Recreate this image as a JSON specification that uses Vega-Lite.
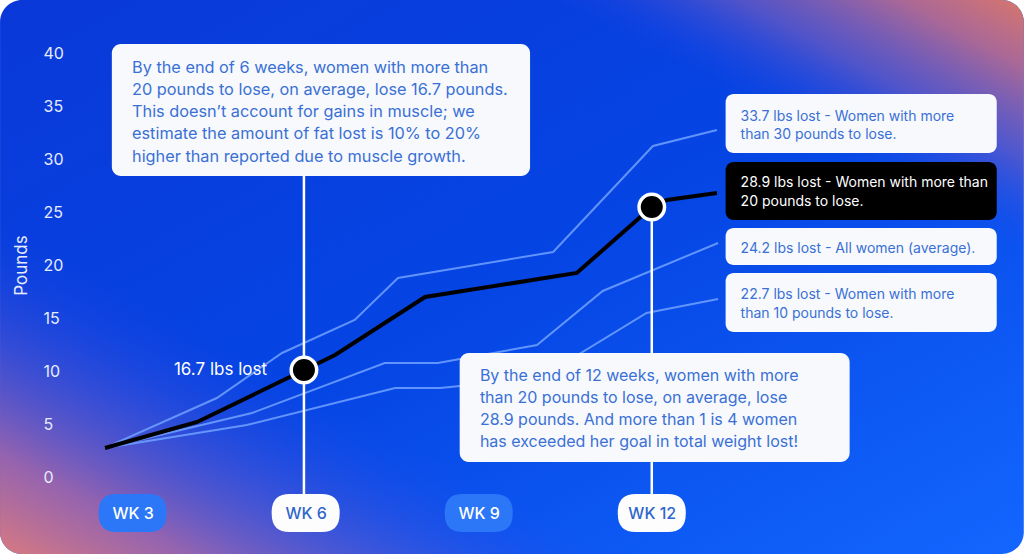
{
  "$schema": "https://vega.github.io/schema/vega-lite/v6.json",
  "width": 623,
  "height": 424,
  "autosize": {"type": "none"},
  "padding": {"left": 98, "top": 53, "right": 303, "bottom": 77},
  "background": "white",
  "config": {"view": {"stroke": null}, "font": "Inter"},
  "resolve": {"axis": {"x": "independent", "y": "independent"}},
  "data": {
    "values": [
      {"series": "More than 30 lbs to lose", "week": 2.52, "lbs": 2.74},
      {"series": "More than 30 lbs to lose", "week": 4.46, "lbs": 7.45},
      {"series": "More than 30 lbs to lose", "week": 5.59, "lbs": 11.7},
      {"series": "More than 30 lbs to lose", "week": 6.85, "lbs": 14.81},
      {"series": "More than 30 lbs to lose", "week": 7.6, "lbs": 18.77},
      {"series": "More than 30 lbs to lose", "week": 10.29, "lbs": 21.23},
      {"series": "More than 30 lbs to lose", "week": 12.02, "lbs": 31.23},
      {"series": "More than 30 lbs to lose", "week": 13.13, "lbs": 32.74},
      {"series": "All women", "week": 2.52, "lbs": 2.74},
      {"series": "All women", "week": 5.07, "lbs": 6.04},
      {"series": "All women", "week": 7.37, "lbs": 10.75},
      {"series": "All women", "week": 8.29, "lbs": 10.75},
      {"series": "All women", "week": 10.01, "lbs": 12.45},
      {"series": "All women", "week": 11.15, "lbs": 17.55},
      {"series": "All women", "week": 13.15, "lbs": 22.08},
      {"series": "More than 10 lbs to lose", "week": 2.52, "lbs": 2.74},
      {"series": "More than 10 lbs to lose", "week": 4.98, "lbs": 4.91},
      {"series": "More than 10 lbs to lose", "week": 7.55, "lbs": 8.4},
      {"series": "More than 10 lbs to lose", "week": 8.33, "lbs": 8.4},
      {"series": "More than 10 lbs to lose", "week": 10.06, "lbs": 9.34},
      {"series": "More than 10 lbs to lose", "week": 11.91, "lbs": 15.47},
      {"series": "More than 10 lbs to lose", "week": 13.15, "lbs": 16.79},
      {"series": "More than 20 lbs to lose", "week": 2.52, "lbs": 2.74},
      {"series": "More than 20 lbs to lose", "week": 4.12, "lbs": 5.19},
      {"series": "More than 20 lbs to lose", "week": 6.51, "lbs": 11.51},
      {"series": "More than 20 lbs to lose", "week": 8.07, "lbs": 16.98},
      {"series": "More than 20 lbs to lose", "week": 10.7, "lbs": 19.25},
      {"series": "More than 20 lbs to lose", "week": 12.0, "lbs": 25.47},
      {"series": "More than 20 lbs to lose", "week": 12.26, "lbs": 26.13},
      {"series": "More than 20 lbs to lose", "week": 13.13, "lbs": 26.79}
    ]
  },
  "layer": [
    {
      "data": {"values": [{}]},
      "mark": {
        "type": "rect",
        "cornerRadius": 22,
        "fill": {
          "gradient": "linear", "x1": 0, "y1": 0, "x2": 1, "y2": 1,
          "stops": [
            {"offset": 0, "color": "#0a38d8"},
            {"offset": 0.5, "color": "#0545e4"},
            {"offset": 1, "color": "#1366ff"}
          ]
        }
      },
      "encoding": {
        "x": {"datum": 0.702, "axis": null},
        "x2": {"datum": 18.449},
        "y": {"datum": 45.0, "axis": null},
        "y2": {"datum": -7.264}
      }
    },
    {
      "data": {"values": [{}]},
      "mark": {
        "type": "rect",
        "cornerRadius": 22,
        "fill": {
          "gradient": "linear", "x1": 0, "y1": 1, "x2": 1, "y2": 0,
          "stops": [
            {"offset": 0, "color": "rgba(216,122,128,1)"},
            {"offset": 0.09, "color": "rgba(175,105,165,0.85)"},
            {"offset": 0.19, "color": "rgba(110,90,200,0.45)"},
            {"offset": 0.3, "color": "rgba(40,70,230,0)"},
            {"offset": 0.77, "color": "rgba(40,70,230,0)"},
            {"offset": 0.86, "color": "rgba(130,95,185,0.6)"},
            {"offset": 0.94, "color": "rgba(188,108,142,0.9)"},
            {"offset": 1, "color": "rgba(216,118,108,1)"}
          ]
        }
      },
      "encoding": {
        "x": {"datum": 0.702, "axis": null},
        "x2": {"datum": 18.449},
        "y": {"datum": 45.0, "axis": null},
        "y2": {"datum": -7.264}
      }
    },
    {
      "transform": [{"filter": "datum.series !== 'More than 20 lbs to lose'"}],
      "mark": {"type": "line", "strokeWidth": 2, "color": "#6c9cff", "opacity": 0.9},
      "encoding": {
        "x": {
          "field": "week", "type": "quantitative",
          "scale": {"domain": [2.4, 13.2], "nice": false, "zero": false},
          "axis": {
            "values": [3, 6, 9, 12], "labelExpr": "'WK ' + datum.value",
            "title": null, "ticks": false, "domain": false, "grid": false,
            "labelPadding": 36, "labelBaseline": "middle", "labelFontSize": 16,
            "labelFontWeight": 500, "labelFlush": false, "labelOverlap": false,
            "labelColor": {"condition": {"test": "datum.value % 6 === 0", "value": "#2f66cc"}, "value": "white"},
            "zindex": 1
          }
        },
        "y": {
          "field": "lbs", "type": "quantitative",
          "scale": {"domain": [0, 40], "nice": false, "zero": false},
          "axis": {
            "values": [0, 5, 10, 15, 20, 25, 30, 35, 40],
            "title": "Pounds", "titleX": -77, "titleY": 212, "titleAngle": 270,
            "titleAlign": "center", "titleBaseline": "middle",
            "titleFontSize": 17, "titleFontWeight": "normal", "titleColor": "#e6ecff",
            "ticks": false, "domain": false, "grid": false,
            "labelAlign": "left", "labelPadding": 55, "labelBaseline": "middle",
            "labelFontSize": 16, "labelColor": "#e6ecff", "zindex": 1
          }
        },
        "detail": {"field": "series"}
      }
    },
    {
      "transform": [{"filter": "datum.series === 'More than 20 lbs to lose'"}],
      "mark": {"type": "line", "strokeWidth": 4, "color": "#000000"},
      "encoding": {
        "x": {"field": "week", "type": "quantitative", "axis": null},
        "y": {"field": "lbs", "type": "quantitative", "axis": null}
      }
    },
    {
      "data": {"values": [{"week": 5.97}]},
      "mark": {"type": "rule", "color": "white", "strokeWidth": 2.5},
      "encoding": {
        "x": {"field": "week", "type": "quantitative", "axis": null},
        "y": {"datum": 28.4, "axis": null},
        "y2": {"datum": -1.6}
      }
    },
    {
      "data": {"values": [{"week": 12}]},
      "mark": {"type": "rule", "color": "white", "strokeWidth": 2.5},
      "encoding": {
        "x": {"field": "week", "type": "quantitative", "axis": null},
        "y": {"datum": 25.47, "axis": null},
        "y2": {"datum": -1.6}
      }
    },
    {
      "data": {"values": [{"week": 5.97, "lbs": 10.1}, {"week": 12, "lbs": 25.47}]},
      "mark": {"type": "circle", "size": 650, "fill": "#000000", "stroke": "white", "strokeWidth": 3.5, "opacity": 1},
      "encoding": {
        "x": {"field": "week", "type": "quantitative", "axis": null},
        "y": {"field": "lbs", "type": "quantitative", "axis": null}
      }
    },
    {
      "data": {"values": [{"week": 3}, {"week": 6}, {"week": 9}, {"week": 12}]},
      "mark": {
        "type": "point", "filled": true, "opacity": 1, "size": 4624,
        "shape": "M-0.47,-0.56 L0.47,-0.56 Q1,-0.56 1,-0.03 L1,0.03 Q1,0.56 0.47,0.56 L-0.47,0.56 Q-1,0.56 -1,0.03 L-1,-0.03 Q-1,-0.56 -0.47,-0.56 Z"
      },
      "encoding": {
        "x": {"field": "week", "type": "quantitative", "axis": null},
        "y": {"datum": -3.4, "axis": null},
        "color": {"condition": {"test": "datum.week % 6 === 0", "value": "#fdfdfe"}, "value": "#2b77f8"}
      }
    },
    {
      "data": {"values": [{}]},
      "mark": {"type": "rect", "cornerRadius": 9, "fill": "#f7f9fc"},
      "encoding": {
        "x": {"datum": 2.64, "axis": null}, "x2": {"datum": 9.89},
        "y": {"datum": 40.85, "axis": null}, "y2": {"datum": 28.4}
      }
    },
    {
      "data": {"values": [{}]},
      "mark": {
        "type": "text", "align": "left", "baseline": "alphabetic", "fontSize": 16.3, "lineHeight": 22.2, "fill": "#3a70d6",
        "text": [
          "By the end of 6 weeks, women with more than",
          "20 pounds to lose, on average, lose 16.7 pounds.",
          "This doesn’t account for gains in muscle; we",
          "estimate the amount of fat lost is 10% to 20%",
          "higher than reported due to muscle growth."
        ]
      },
      "encoding": {"x": {"datum": 2.99, "axis": null}, "y": {"datum": 38.14, "axis": null}}
    },
    {
      "data": {"values": [{}]},
      "mark": {"type": "rect", "cornerRadius": 8, "fill": "#f7f9fc"},
      "encoding": {
        "x": {"datum": 13.28, "axis": null}, "x2": {"datum": 17.98},
        "y": {"datum": 36.13, "axis": null}, "y2": {"datum": 30.57}
      }
    },
    {
      "data": {"values": [{}]},
      "mark": {"type": "rect", "cornerRadius": 8, "fill": "#000000"},
      "encoding": {
        "x": {"datum": 13.28, "axis": null}, "x2": {"datum": 17.98},
        "y": {"datum": 29.72, "axis": null}, "y2": {"datum": 24.25}
      }
    },
    {
      "data": {"values": [{}]},
      "mark": {"type": "rect", "cornerRadius": 8, "fill": "#f7f9fc"},
      "encoding": {
        "x": {"datum": 13.28, "axis": null}, "x2": {"datum": 17.98},
        "y": {"datum": 23.49, "axis": null}, "y2": {"datum": 20.0}
      }
    },
    {
      "data": {"values": [{}]},
      "mark": {"type": "rect", "cornerRadius": 8, "fill": "#f7f9fc"},
      "encoding": {
        "x": {"datum": 13.28, "axis": null}, "x2": {"datum": 17.98},
        "y": {"datum": 19.25, "axis": null}, "y2": {"datum": 13.68}
      }
    },
    {
      "data": {"values": [{}]},
      "mark": {
        "type": "text", "align": "left", "baseline": "alphabetic", "fontSize": 14, "lineHeight": 18.5, "fill": "#3a70d6",
        "text": ["33.7 lbs lost - Women with more", "than 30 pounds to lose."]
      },
      "encoding": {"x": {"datum": 13.54, "axis": null}, "y": {"datum": 33.63, "axis": null}}
    },
    {
      "data": {"values": [{}]},
      "mark": {
        "type": "text", "align": "left", "baseline": "alphabetic", "fontSize": 14, "lineHeight": 18.5, "fill": "#ffffff",
        "text": ["28.9 lbs lost - Women with more than", "20 pounds to lose."]
      },
      "encoding": {"x": {"datum": 13.54, "axis": null}, "y": {"datum": 27.33, "axis": null}}
    },
    {
      "data": {"values": [{}]},
      "mark": {
        "type": "text", "align": "left", "baseline": "alphabetic", "fontSize": 14, "fill": "#3a70d6",
        "text": "24.2 lbs lost - All women (average)."
      },
      "encoding": {"x": {"datum": 13.54, "axis": null}, "y": {"datum": 21.16, "axis": null}}
    },
    {
      "data": {"values": [{}]},
      "mark": {
        "type": "text", "align": "left", "baseline": "alphabetic", "fontSize": 14, "lineHeight": 18.5, "fill": "#3a70d6",
        "text": ["22.7 lbs lost - Women with more", "than 10 pounds to lose."]
      },
      "encoding": {"x": {"datum": 13.54, "axis": null}, "y": {"datum": 16.79, "axis": null}}
    },
    {
      "data": {"values": [{}]},
      "mark": {"type": "rect", "cornerRadius": 9, "fill": "#f7f9fc"},
      "encoding": {
        "x": {"datum": 8.67, "axis": null}, "x2": {"datum": 15.43},
        "y": {"datum": 11.7, "axis": null}, "y2": {"datum": 1.42}
      }
    },
    {
      "data": {"values": [{}]},
      "mark": {
        "type": "text", "align": "left", "baseline": "alphabetic", "fontSize": 16, "lineHeight": 21.8, "fill": "#3a70d6",
        "text": [
          "By the end of 12 weeks, women with more",
          "than 20 pounds to lose, on average, lose",
          "28.9 pounds. And more than 1 is 4 women",
          "has exceeded her goal in total weight lost!"
        ]
      },
      "encoding": {"x": {"datum": 9.02, "axis": null}, "y": {"datum": 9.01, "axis": null}}
    },
    {
      "data": {"values": [{}]},
      "mark": {
        "type": "text", "align": "right", "baseline": "alphabetic", "fontSize": 17, "fill": "#ffffff",
        "text": "16.7 lbs lost"
      },
      "encoding": {"x": {"datum": 5.33, "axis": null}, "y": {"datum": 9.62, "axis": null}}
    }
  ]
}
